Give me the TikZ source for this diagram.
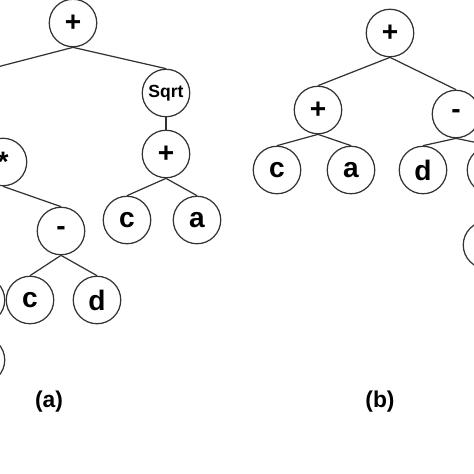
\documentclass[tikz,border=0pt]{standalone}
\usepackage{fontspec}
\setmainfont{Liberation Sans}
\usetikzlibrary{positioning}
\definecolor{cline}{HTML}{333333}
\tikzset{
  every picture/.style={font=\bfseries, line width=0.7pt},
  tnode/.style={circle, draw=cline, fill=white, minimum size=0.95cm, inner sep=0pt, font=\bfseries\fontsize{16}{16}\selectfont},
  smalltext/.style={font=\bfseries\fontsize{10}{10}\selectfont},
  link/.style={draw=cline, line width=0.7pt},
  caption/.style={font=\bfseries\fontsize{13}{13}\selectfont},
}

\begin{document}
\begin{tikzpicture}[x=0.02cm, y=-0.02cm]
  \useasboundingbox (0,0) rectangle (474,474);
  \clip (0,0) rectangle (474,474);
  % tree (a)
  \node[tnode] (aroot) at (73,23) {+};
  \node[tnode] (aleft) at (-40,101) {};
  \node[tnode, smalltext] (asqrt) at (166,93) {Sqrt};
  \node[tnode] (aplus) at (166,154) {+};
  \node[tnode] (ac1) at (127,220) {c};
  \node[tnode] (aa1) at (197,220) {a};
  \node[tnode] (atimes) at (3,162) {*};
  \node[tnode] (aminus) at (61,231) {-};
  \node[tnode] (ac2) at (30,300) {c};
  \node[tnode] (ad) at (97,300) {d};
  \node[tnode] (aout1) at (-19,300) {};
  \node[tnode] (aout2) at (-19,360) {};
  \draw[link] (aroot.south) -- (aleft.north);
  \draw[link] (aroot.south) -- (asqrt.north);
  \draw[link] (asqrt.south) -- (aplus.north);
  \draw[link] (aplus.south) -- (ac1.north);
  \draw[link] (aplus.south) -- (aa1.north);
  \draw[link] (atimes.south) -- (aminus.north);
  \draw[link] (aminus.south) -- (ac2.north);
  \draw[link] (aminus.south) -- (ad.north);
  \node[caption] (capa) at (49,402) {(a)};
  % tree (b)
  \node[tnode] (broot) at (390,33) {+};
  \node[tnode] (bplus) at (318,110) {+};
  \node[tnode] (bminus) at (456,114) {-};
  \node[tnode] (bc) at (277,170) {c};
  \node[tnode] (ba) at (351,170) {a};
  \node[tnode] (bd) at (423,170) {d};
  \node[tnode] (bout1) at (491,170) {};
  \node[tnode] (bout2) at (487,245) {};
  \draw[link] (broot.south) -- (bplus.north);
  \draw[link] (broot.south) -- (bminus.north);
  \draw[link] (bplus.south) -- (bc.north);
  \draw[link] (bplus.south) -- (ba.north);
  \draw[link] (bminus.south) -- (bd.north);
  \draw[link] (bminus.south) -- (bout1.north);
  \node[caption] (capb) at (380,402) {(b)};
\end{tikzpicture}
\end{document}
